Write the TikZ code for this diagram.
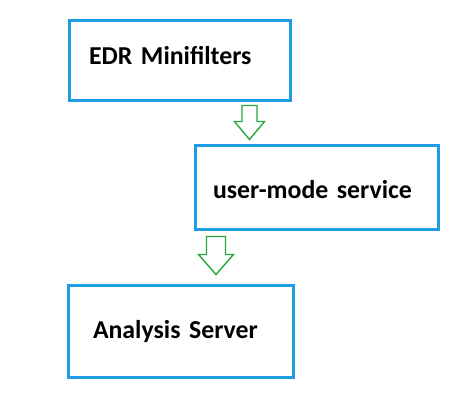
\documentclass[tikz,border=0pt]{standalone}
\usepackage{fontspec}
\setmainfont{Carlito}
\usetikzlibrary{positioning,calc}
\definecolor{boxblue}{RGB}{30,157,228}
\definecolor{flowgreen}{RGB}{40,168,62}

% hollow block arrow pointing down: top point, shaft half, head half, shaft length, total length
\newcommand{\hollowarrow}[5]{%
	\draw[flow] (#1) ++(-#2,0) -- ++(0,#4) -- ++({#2-#3},0) -- ++(#3,{#5-#4})
		-- ++(#3,{#4-#5}) -- ++({#2-#3},0) -- ++(0,-#4) -- cycle;}

\begin{document}
\begin{tikzpicture}[x=1pt,y=-1pt,
			box/.style={
				draw=boxblue,
				line width=3pt,
				align=left,
				font=\fontsize{25.8}{30}\selectfont\bfseries
			},
			flow/.style={
				draw=flowgreen,
				line width=1.4pt,
				line join=miter,
				fill=white
			}
			]
			\useasboundingbox (0,0) rectangle (474,402);

			\node[box,text width=181pt,inner xsep=20pt,minimum height=80pt,text depth=10pt] at (179.5,60)
				(edr) {EDR Minifilters};
			\node[box,text width=207pt,inner xsep=18pt,minimum height=84pt,text height=24pt] at (316.5,187)
				(umode) {user-mode service};
			\node[box,text width=175pt,inner xsep=25pt,minimum height=92pt] at (180.5,331)
				(server) {Analysis Server};

			\coordinate (a1) at ($(edr.south)+(70,4)$);
			\coordinate (a2) at ($(umode.south west)+(22.5,6)$);

			\hollowarrow{a1}{7.5}{15}{16}{34}
			\hollowarrow{a2}{9.5}{17.5}{18}{38}
\end{tikzpicture}
\end{document}
